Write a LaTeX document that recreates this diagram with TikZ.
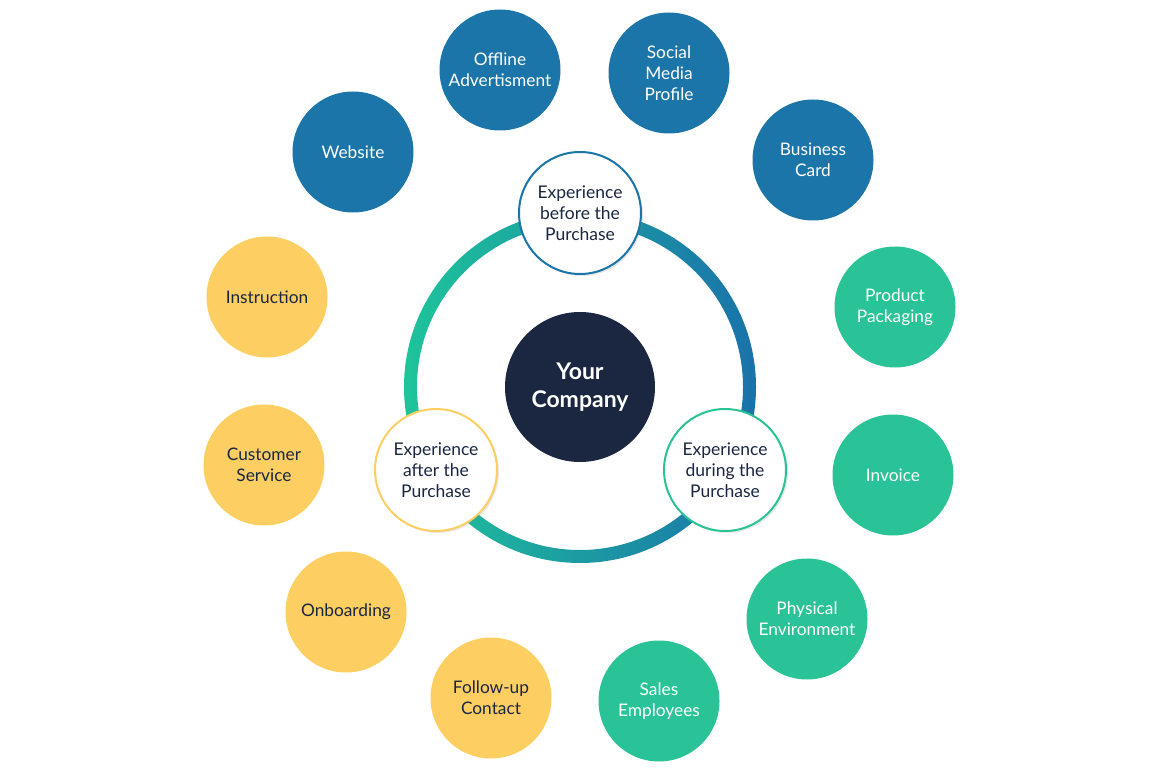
\documentclass[tikz,border=0pt]{standalone}
\usepackage{fontspec}
\setmainfont{Lato}
\usepackage{xcolor}
\usetikzlibrary{shadows}
\definecolor{touchblue}{HTML}{1B75A9}
\definecolor{touchgreen}{HTML}{2AC397}
\definecolor{touchyellow}{HTML}{FDCF63}
\definecolor{navy}{HTML}{1B2640}
\definecolor{ringgreen}{HTML}{1EC49A}
\definecolor{ringblue}{HTML}{1A72AA}

\begin{document}
\begin{tikzpicture}[x=1pt, y=-1pt,
  touch/.style={circle, minimum size=121pt, inner sep=0pt, text=white, align=center,
    font=\fontsize{17.3}{21}\selectfont},
  stage/.style={circle, minimum size=122pt, inner sep=0pt, fill=white, line width=2pt,
    text=navy, align=center, font=\fontsize{17.5}{21}\selectfont,
    drop shadow={opacity=0.18, shadow xshift=2pt, shadow yshift=-2pt}},
  hub/.style={circle, minimum size=150pt, inner sep=0pt, fill=navy, text=white,
    align=center, font=\fontsize{23}{28}\selectfont\bfseries}]
\useasboundingbox (0,0) rectangle (1160,773);
\coordinate (C) at (580,387);

% ring
\path[left color=ringgreen, right color=ringblue, even odd rule]
  (C) circle (176) circle (163);

\node[hub] (company) at (C) {Your\\Company};

% stages
\node[stage, draw=touchblue] (before) at (580,213) {Experience\\before the\\Purchase};
\node[stage, draw=touchyellow] (after) at (436,470) {Experience\\after the\\Purchase};
\node[stage, draw=touchgreen] (during) at (725,470) {Experience\\during the\\Purchase};

% before the purchase
\node[touch, fill=touchblue] (website) at (353,152) {Website};
\node[touch, fill=touchblue] (offline) at (500,70) {Offline\\Advertisment};
\node[touch, fill=touchblue] (social) at (669,73) {Social\\Media\\Profile};
\node[touch, fill=touchblue] (card) at (813,160) {Business\\Card};

% during the purchase
\node[touch, fill=touchgreen] (packaging) at (895,307) {Product\\Packaging};
\node[touch, fill=touchgreen] (invoice) at (893,475) {Invoice};
\node[touch, fill=touchgreen] (physical) at (807,619) {Physical\\Environment};
\node[touch, fill=touchgreen] (sales) at (659,701) {Sales\\Employees};

% after the purchase
\node[touch, fill=touchyellow, text=navy] (followup) at (491,698) {Follow-up\\Contact};
\node[touch, fill=touchyellow, text=navy] (onboarding) at (346,612) {Onboarding};
\node[touch, fill=touchyellow, text=navy] (service) at (264,465) {Customer\\Service};
\node[touch, fill=touchyellow, text=navy] (instruction) at (267,297) {Instruction};
\end{tikzpicture}
\end{document}
